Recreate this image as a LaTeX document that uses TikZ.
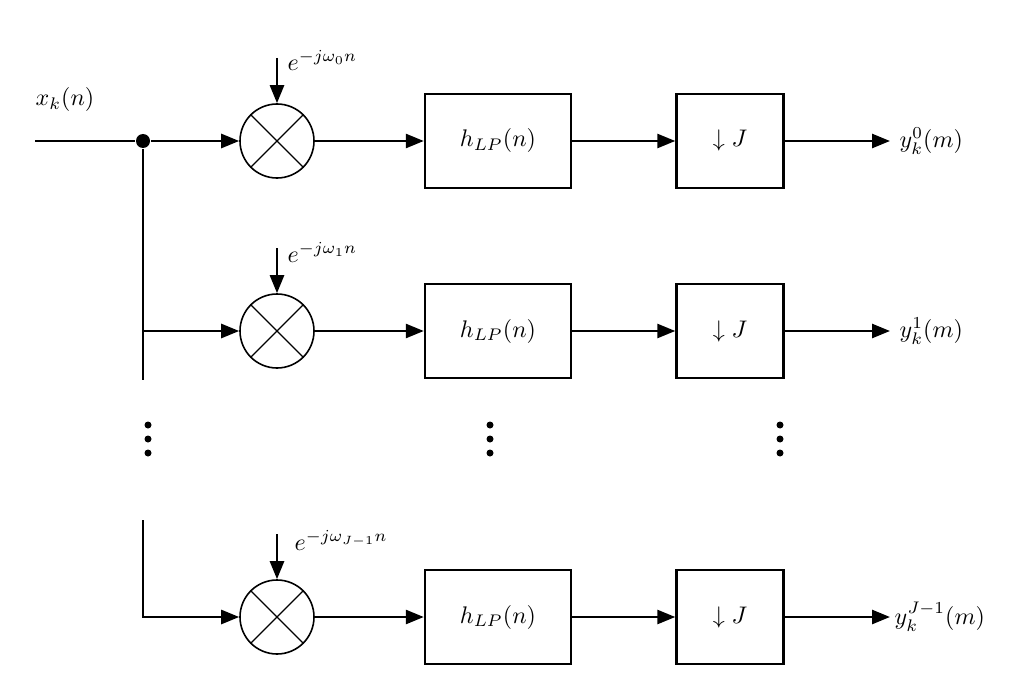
\documentclass[tikz,border=0pt]{standalone}
\usetikzlibrary{arrows.meta}
\newcommand\bigtxt[1]{\scalebox{2.4}{$#1$}}
\begin{document}
\begin{tikzpicture}[x=1pt,y=-1pt,
  line width=2.6pt,
  arr/.style={-{Triangle[length=18pt,width=14pt]}},
  mix/.style={circle,draw,line width=1.6pt,minimum size=74pt,inner sep=0pt},
  blk/.style={draw,line width=2.4pt,minimum width=146pt,minimum height=94pt},
  dn/.style={draw,line width=2.4pt,minimum width=107pt,minimum height=94pt},
  lab/.style={},
  vd/.style={circle,fill,inner sep=0pt,minimum size=7pt}]
\useasboundingbox (0,0) rectangle (1024,679);
\foreach \r/\y in {0/141,1/331,2/617}{
  \node[mix] (m\r) at (277,\y) {};
  \draw[line width=1.2pt] (m\r.north west)--(m\r.south east) (m\r.north east)--(m\r.south west);
  \node[blk] (h\r) at (498,\y) {\bigtxt{h_{LP}(n)}};
  \node[dn] (d\r) at (730,\y) {\bigtxt{\downarrow J}};
  \coordinate (o\r) at (890,\y);
  \coordinate (t\r) at (277,\y-83);
  \draw[arr] (m\r)--(h\r);
  \draw[arr] (h\r)--(d\r);
  \draw[arr] (d\r)--(o\r);
  \draw[arr] (t\r)--(m\r.north);
}
\node[lab] (x) at (65,100) {\bigtxt{x_k(n)}};
\coordinate (in) at (35,141);
\node[circle,fill,inner sep=0pt,minimum size=14pt] (dot) at (143,141) {};
\draw (in)--(dot);
\draw[arr] (dot)--(m0.west);
\coordinate (v1) at (143,331);
\coordinate (vb) at (143,380);
\coordinate (v2t) at (143,520);
\coordinate (v2) at (143,617);
\draw (dot)--(vb);
\draw[arr] (v1)--(m1.west);
\draw[arr] (v2t)--(v2)--(m2.west);
\node[lab,anchor=south west] (e0) at (283,75) {\bigtxt{e^{-j\omega_0 n}}};
\node[lab,anchor=south west] (e1) at (283,267) {\bigtxt{e^{-j\omega_1 n}}};
\node[lab,anchor=south west] (e2) at (290,555) {\bigtxt{e^{-j\omega_{J-1} n}}};
\node[lab,anchor=west] (y0) at (895,141) {\bigtxt{y_k^0(m)}};
\node[lab,anchor=west] (y1) at (895,331) {\bigtxt{y_k^1(m)}};
\node[lab,anchor=west] (y2) at (890,617) {\bigtxt{y_k^{J-1}(m)}};
\foreach \x/\n in {148/a,490/b,780/c}{
  \node[vd] (\n1) at (\x,425) {};
  \node[vd] (\n2) at (\x,439) {};
  \node[vd] (\n3) at (\x,453) {};
}
\end{tikzpicture}
\end{document}
